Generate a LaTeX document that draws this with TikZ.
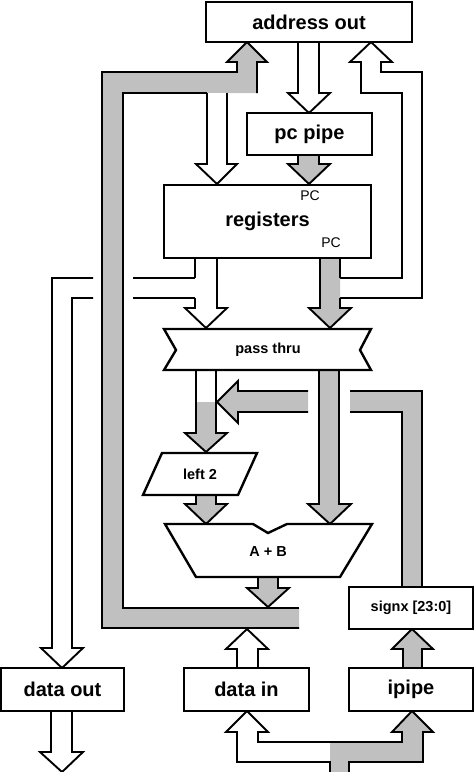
\documentclass[tikz,border=0pt]{standalone}
\usepackage{fontspec}
\setmainfont{Liberation Sans}
\definecolor{agray}{RGB}{192,192,192}
\begin{document}
\begin{tikzpicture}[x=1pt,y=-1pt,
  boxline/.style={draw=black,line width=2.4pt,line join=miter},
  box/.style={boxline,fill=white,inner sep=0pt},
  big/.style={font=\fontsize{20}{22}\selectfont\bfseries},
  small/.style={font=\fontsize{14.5}{16}\selectfont\bfseries},
  pcl/.style={font=\fontsize{14}{15}\selectfont,inner sep=0pt},
  outl/.style={draw=black,line width=1.9pt,line join=miter}]
\useasboundingbox (0,0) rectangle (474,772);

% ---- white branch: registers (left) -> data out
\fill[white] (195,278) -- (52,278) -- (52,648) -- (41,648) -- (62,668) -- (83,648) -- (72,648) -- (72,298) -- (195,298) -- cycle;
\draw[outl] (195,278) -- (133,278);
\draw[outl] (93,278) -- (52,278) -- (52,648) -- (41,648) -- (62,668) -- (83,648) -- (72,648) -- (72,298) -- (93,298);
\draw[outl] (133,298) -- (195,298);

% ---- registers (left) -> pass thru (white)
\fill[white] (195,258) -- (217,258) -- (217,308) -- (227,308) -- (206,328) -- (185,308) -- (195,308) -- cycle;
\draw[outl] (195,258) -- (195,278);
\draw[outl] (195,298) -- (195,308) -- (185,308) -- (206,328) -- (227,308) -- (217,308) -- (217,258);

% ---- white branch: PC -> address out
\fill[white] (340,278) -- (402,278) -- (402,93) -- (361,93) -- (361,62) -- (350,62) -- (371,42) -- (392,62) -- (381,62) -- (381,72) -- (422,72) -- (422,298) -- (340,298) -- cycle;
\draw[outl] (340,278) -- (402,278) -- (402,93) -- (361,93) -- (361,62) -- (350,62) -- (371,42) -- (392,62) -- (381,62) -- (381,72) -- (422,72) -- (422,298) -- (340,298);

% ---- PC -> pass thru (gray)
\fill[agray] (320,258) -- (340,258) -- (340,308) -- (351,308) -- (330,328) -- (309,308) -- (320,308) -- cycle;
\draw[outl] (340,258) -- (340,278);
\draw[outl] (340,298) -- (340,308) -- (351,308) -- (330,328) -- (309,308) -- (320,308) -- (320,258);

% ---- gray band: A+B -> address out
\fill[agray] (102,628) -- (299,628) -- (299,608) -- (123,608) -- (123,93) -- (257,93) -- (257,62) -- (267,62) -- (247,42) -- (227,62) -- (237,62) -- (237,72) -- (102,72) -- cycle;
\draw[outl] (299,628) -- (102,628) -- (102,72) -- (237,72) -- (237,62) -- (227,62) -- (247,42) -- (267,62) -- (257,62) -- (257,93);
\draw[outl] (299,608) -- (123,608) -- (123,93) -- (207,93);

% ---- band -> registers (white)
\fill[white] (207,93) -- (227,93) -- (227,164) -- (237,164) -- (217,184) -- (196,164) -- (207,164) -- cycle;
\draw[outl] (207,93) -- (207,164) -- (196,164) -- (217,184) -- (237,164) -- (227,164) -- (227,93);

% ---- address out -> pc pipe (white)
\fill[white] (298,42) -- (319,42) -- (319,93) -- (330,93) -- (309,113) -- (288,93) -- (298,93) -- cycle;
\draw[outl] (298,42) -- (298,93) -- (288,93) -- (309,113) -- (330,93) -- (319,93) -- (319,42);

% ---- pc pipe -> registers (gray)
\fill[agray] (298,155) -- (319,155) -- (319,164) -- (330,164) -- (309,184) -- (288,164) -- (298,164) -- cycle;
\draw[outl] (298,155) -- (298,164) -- (288,164) -- (309,184) -- (330,164) -- (319,164) -- (319,155);

% ---- pass thru (left) -> left 2
\fill[white] (196,370) rectangle (216,402);
\fill[agray] (196,402) -- (216,402) -- (216,433) -- (227,433) -- (206,452) -- (185,433) -- (196,433) -- cycle;
\draw[outl] (196,370) -- (196,433) -- (185,433) -- (206,452) -- (227,433) -- (216,433) -- (216,370);

% ---- signx -> left (gray)
\fill[agray] (308,391) -- (238,391) -- (238,381) -- (217,402) -- (238,423) -- (238,412) -- (308,412) -- cycle;
\draw[outl] (308,391) -- (238,391) -- (238,381) -- (217,402) -- (238,423) -- (238,412) -- (308,412);
\fill[agray] (350,391) -- (422,391) -- (422,587) -- (402,587) -- (402,412) -- (350,412) -- cycle;
\draw[outl] (350,391) -- (422,391) -- (422,587);
\draw[outl] (350,412) -- (402,412) -- (402,587);

% ---- pass thru (right) -> A+B (gray)
\fill[agray] (319,370) -- (339,370) -- (339,504) -- (351,504) -- (330,524) -- (308,504) -- (319,504) -- cycle;
\draw[outl] (319,370) -- (319,504) -- (308,504) -- (330,524) -- (351,504) -- (339,504) -- (339,370);

% ---- left 2 -> A+B (gray)
\fill[agray] (196,495) -- (216,495) -- (216,504) -- (227,504) -- (206,524) -- (185,504) -- (196,504) -- cycle;
\draw[outl] (196,495) -- (196,504) -- (185,504) -- (206,524) -- (227,504) -- (216,504) -- (216,495);

% ---- A+B -> band (gray)
\fill[agray] (258,577) -- (278,577) -- (278,588) -- (289,588) -- (268,607) -- (247,588) -- (258,588) -- cycle;
\draw[outl] (258,577) -- (258,588) -- (247,588) -- (268,607) -- (289,588) -- (278,588) -- (278,577);

% ---- data in -> band (white)
\fill[white] (237,668) -- (237,649) -- (226,649) -- (247,629) -- (268,649) -- (258,649) -- (258,668) -- cycle;
\draw[outl] (237,668) -- (237,649) -- (226,649) -- (247,629) -- (268,649) -- (258,649) -- (258,668);

% ---- ipipe -> signx (gray)
\fill[agray] (403,668) -- (403,649) -- (392,649) -- (412,629) -- (433,649) -- (422,649) -- (422,668) -- cycle;
\draw[outl] (403,668) -- (403,649) -- (392,649) -- (412,629) -- (433,649) -- (422,649) -- (422,668);

% ---- data out -> below (white)
\fill[white] (51,711) -- (51,752) -- (40,752) -- (62,772) -- (83,752) -- (72,752) -- (72,711) -- cycle;
\draw[outl] (51,711) -- (51,752) -- (40,752) -- (62,772) -- (83,752) -- (72,752) -- (72,711);

% ---- bottom input split
\fill[white] (237,762) -- (237,732) -- (226,732) -- (247,711) -- (268,732) -- (258,732) -- (258,742) -- (330,742) -- (330,762) -- cycle;
\fill[agray] (330,742) -- (402,742) -- (402,732) -- (392,732) -- (412,711) -- (433,732) -- (423,732) -- (423,762) -- (349,762) -- (349,772) -- (330,772) -- cycle;
\draw[outl] (330,772) -- (330,762) -- (237,762) -- (237,732) -- (226,732) -- (247,711) -- (268,732) -- (258,732) -- (258,742) -- (402,742) -- (402,732) -- (392,732) -- (412,711) -- (433,732) -- (423,732) -- (423,762) -- (349,762) -- (349,772);

% ---- boxes
\node[box,big,minimum width=206pt,minimum height=40pt] (addr) at (309,22) {address out};
\node[box,big,minimum width=125pt,minimum height=42pt] (pcpipe) at (309.5,134) {pc pipe};
\node[box,big,minimum width=207pt,minimum height=73pt] (regs) at (267.5,221.5) {registers};
\node[pcl] (pc1) at (310,196) {PC};
\node[pcl] (pc2) at (331,243) {PC};

\draw[boxline,fill=white] (164,329) -- (371,329) -- (360,350) -- (371,370) -- (164,370) -- (176,350) -- cycle;
\node[small] (pass) at (268,350) {pass thru};

\draw[boxline,fill=white] (162,453) -- (257,453) -- (238,495) -- (143,495) -- cycle;
\node[small] (left) at (200,474) {left 2};

\draw[boxline,fill=white] (165,524) -- (253,524) -- (268,533) -- (287,524) -- (372,524) -- (340,577) -- (196,577) -- cycle;
\node[small] (adder) at (268,552) {A + B};

\node[box,small,minimum width=124pt,minimum height=42pt] (signx) at (411,608) {signx [23:0]};
\node[box,big,minimum width=123pt,minimum height=43pt] (dout) at (62.5,689.5) {data out};
\node[box,big,minimum width=125pt,minimum height=43pt] (din) at (246.5,689.5) {data in};
\node[box,big,minimum width=124pt,minimum height=43pt] (ipipe) at (411,689.5) {ipipe};
\end{tikzpicture}
\end{document}
